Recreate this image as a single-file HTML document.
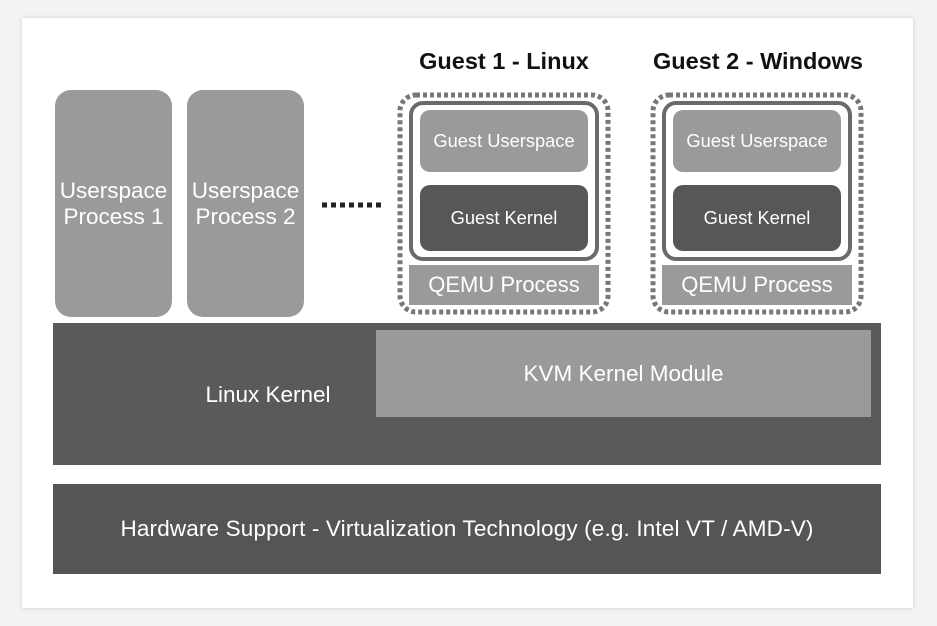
<!DOCTYPE html>
<html><head><style>
body{margin:0;width:937px;height:626px;background:#f3f3f3;position:relative;overflow:hidden;font-family:"Liberation Sans",sans-serif;}
div{position:absolute;box-sizing:border-box;}
.card{left:22px;top:18px;width:891px;height:590px;background:#fff;box-shadow:0 0 4px rgba(0,0,0,0.15);}
.c{display:flex;align-items:center;justify-content:center;text-align:center;color:#fff;white-space:nowrap;}
.proc{background:#9a9a9a;border-radius:16px;font-size:22.5px;line-height:26px;top:90px;height:227px;width:117px;}
.inner{border:4px solid #6a6a6a;border-radius:14px;top:101px;width:190px;height:160px;}
.us{background:#9a9a9a;border-radius:10px;top:110px;width:168px;height:62px;font-size:18.3px;}
.gk{background:#575757;border-radius:10px;top:185px;width:168px;height:66px;font-size:18.3px;}
.q{background:#9a9a9a;top:265px;width:190px;height:40px;font-size:22px;}
.t{color:#111;font-weight:bold;font-size:23.5px;top:48px;width:260px;text-align:center;white-space:nowrap;}
svg{position:absolute;}
</style></head><body>
<div class="card"></div>
<div class="c proc" style="left:55px">Userspace<br>Process 1</div>
<div class="c proc" style="left:187px">Userspace<br>Process 2</div>
<svg style="left:0;top:0" width="937" height="626">
<line x1="322" y1="205" x2="384" y2="205" stroke="#222" stroke-width="5" stroke-dasharray="5,4"/>
<rect x="400" y="95" width="208" height="217" rx="16" fill="none" stroke="#777" stroke-width="5" stroke-dasharray="4,3"/>
<rect x="653" y="95" width="208" height="217" rx="16" fill="none" stroke="#777" stroke-width="5" stroke-dasharray="4,3"/>
</svg>
<div class="t" style="left:374px">Guest 1 - Linux</div>
<div class="t" style="left:628px">Guest 2 - Windows</div>
<div class="inner" style="left:409px"></div>
<div class="c us" style="left:420px">Guest Userspace</div>
<div class="c gk" style="left:420px">Guest Kernel</div>
<div class="c q" style="left:409px">QEMU Process</div>
<div class="inner" style="left:662px"></div>
<div class="c us" style="left:673px">Guest Userspace</div>
<div class="c gk" style="left:673px">Guest Kernel</div>
<div class="c q" style="left:662px">QEMU Process</div>
<div style="left:53px;top:323px;width:828px;height:142px;background:#5a5a5a;"></div>
<div class="c" style="left:188px;top:380px;width:160px;height:30px;font-size:22.5px;">Linux Kernel</div>
<div class="c" style="left:376px;top:330px;width:495px;height:87px;background:#9a9a9a;font-size:22.5px;align-items:flex-start;padding-top:31px;">KVM Kernel Module</div>
<div class="c" style="left:53px;top:484px;width:828px;height:90px;background:#555;font-size:22.5px;letter-spacing:0.15px;">Hardware Support - Virtualization Technology (e.g. Intel VT / AMD-V)</div>
</body></html>
